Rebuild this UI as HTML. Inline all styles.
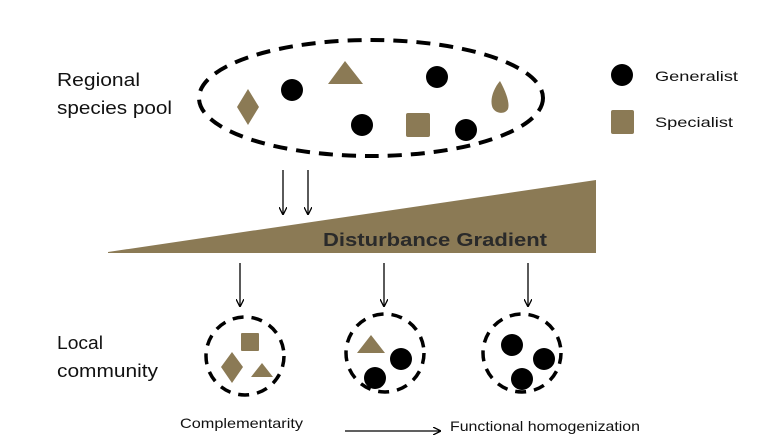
<!DOCTYPE html>
<html><head><style>
body{margin:0;background:#fff;}
svg{display:block;font-family:"Liberation Sans",sans-serif;}
</style></head><body>
<svg width="768" height="441" viewBox="0 0 768 441">
<defs><marker id="ah" markerWidth="8" markerHeight="8" refX="7" refY="4" orient="auto" markerUnits="userSpaceOnUse"><path d="M0,0 L8,4 L0,8" fill="none" stroke="#000" stroke-width="1.3"/></marker></defs>
<g fill="#8b7a55">
<ellipse cx="371" cy="98" rx="172" ry="58" fill="none" stroke="#000" stroke-width="4" stroke-dasharray="14,9"/>
<polygon points="248,89 259,107 248,125 237,107"/>
<polygon points="345,61 363,84 328,84"/>
<path d="M500,81 C494,88 490,98 492,106 C494,114 505,115 508,109 C510,103 506,92 500,81Z"/>
<rect x="406" y="113" width="24" height="24" rx="2"/>
<rect x="611" y="110" width="23" height="24" rx="2"/>
<polygon points="108,252 596,180 596,253 108,253"/>
<g fill="none" stroke="#000" stroke-width="3.5" stroke-dasharray="11,8">
<circle cx="245" cy="356" r="39"/><circle cx="385" cy="353" r="39"/><circle cx="522" cy="353" r="39"/></g>
<rect x="241" y="333" width="18" height="18" rx="1"/>
<polygon points="232,352 243,367 232,383 221,367"/>
<polygon points="262,363 273,377 251,377"/>
<polygon points="371,335 385,353 357,353"/>
</g>
<g fill="#000">
<circle cx="292" cy="90" r="11"/><circle cx="437" cy="77" r="11"/><circle cx="362" cy="125" r="11"/><circle cx="466" cy="130" r="11"/>
<circle cx="622" cy="75" r="11"/>
<circle cx="401" cy="359" r="11"/><circle cx="375" cy="378" r="11"/>
<circle cx="512" cy="345" r="11"/><circle cx="544" cy="359" r="11"/><circle cx="522" cy="379" r="11"/>
</g>
<g stroke="#000" stroke-width="1.3" marker-end="url(#ah)">
<line x1="283" y1="170" x2="283" y2="214"/><line x1="308" y1="170" x2="308" y2="214"/>
<line x1="240" y1="263" x2="240" y2="306"/><line x1="384" y1="263" x2="384" y2="306"/><line x1="528" y1="263" x2="528" y2="306"/>
<line x1="345" y1="431" x2="440" y2="431"/>
</g>
<g font-size="18" fill="#111" lengthAdjust="spacingAndGlyphs">
<text x="57" y="86" textLength="83" lengthAdjust="spacingAndGlyphs">Regional</text><text x="57" y="114" textLength="115" lengthAdjust="spacingAndGlyphs">species pool</text>
<text x="57" y="349" textLength="46" lengthAdjust="spacingAndGlyphs">Local</text><text x="57" y="377" textLength="101" lengthAdjust="spacingAndGlyphs">community</text>
</g>
<g font-size="14" fill="#111">
<text x="655" y="81" textLength="83" lengthAdjust="spacingAndGlyphs">Generalist</text><text x="655" y="127" textLength="78" lengthAdjust="spacingAndGlyphs">Specialist</text>
<text x="180" y="428" textLength="123" lengthAdjust="spacingAndGlyphs">Complementarity</text><text x="450" y="431" textLength="190" lengthAdjust="spacingAndGlyphs">Functional homogenization</text>
</g>
<text x="323" y="246" font-size="18" font-weight="bold" fill="#2a2a2a" textLength="224" lengthAdjust="spacingAndGlyphs">Disturbance Gradient</text>
</svg>
</body></html>
